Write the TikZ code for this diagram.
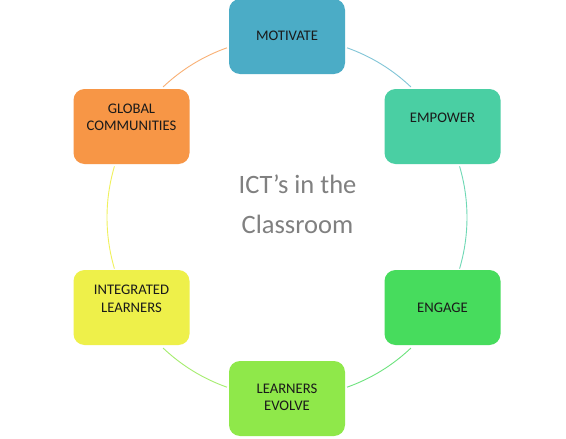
\documentclass[tikz,border=0pt]{standalone}
\usepackage{fontspec}
\setmainfont{Carlito}
\definecolor{cMot}{HTML}{4BACC6}
\definecolor{cEmp}{HTML}{4ACFA3}
\definecolor{cEng}{HTML}{47DC5D}
\definecolor{cLev}{HTML}{8FE84A}
\definecolor{cInt}{HTML}{EEF04A}
\definecolor{cGlo}{HTML}{F79646}
\definecolor{cTitle}{HTML}{808080}
\definecolor{cTxt}{HTML}{1A1A1A}
\begin{document}
\begin{tikzpicture}[x=1pt,y=1pt,
  box/.style={draw=none, rounded corners=11pt, minimum width=116pt, minimum height=75pt, inner sep=0pt},
  lbl/.style={text=cTxt, align=center, inner sep=0pt, font=\fontsize{14.67pt}{17.5pt}\selectfont},
  ring/.style={line width=0.9pt},
  title/.style={text=cTitle, align=center, inner sep=0pt, font=\fontsize{26.5pt}{40pt}\selectfont}]
\useasboundingbox[fill=white] (0,0) rectangle (566,-439);
\coordinate (c) at (287,-217.5);
% ring arcs
\draw[ring, cMot!70] ([shift={(70.5:180pt)}]c) arc[start angle=70.5, end angle=46.5, radius=180pt];
\draw[ring, cEmp!80] ([shift={(16.5:180pt)}]c) arc[start angle=16.5, end angle=-16.5, radius=180pt];
\draw[ring, cEng!80] ([shift={(-46.5:180pt)}]c) arc[start angle=-46.5, end angle=-70.5, radius=180pt];
\draw[ring, cLev!80] ([shift={(-109.5:180pt)}]c) arc[start angle=-109.5, end angle=-133.5, radius=180pt];
\draw[ring, cInt!90] ([shift={(196.5:180pt)}]c) arc[start angle=196.5, end angle=163.5, radius=180pt];
\draw[ring, cGlo!75] ([shift={(133.5:180pt)}]c) arc[start angle=133.5, end angle=109.5, radius=180pt];
% boxes
\node[box, fill=cMot] (mot) at (287,-36.5) {};
\node[box, fill=cEmp] (emp) at (442.5,-126.5) {};
\node[box, fill=cEng] (eng) at (442.5,-307.5) {};
\node[box, fill=cLev] (lev) at (287,-398.5) {};
\node[box, fill=cInt] (int) at (131.5,-307.5) {};
\node[box, fill=cGlo] (glo) at (131.5,-126.5) {};
% labels
\node[lbl] (motT) at (287,-35.3) {MOTIVATE};
\node[lbl] (empT) at (442.5,-117.3) {EMPOWER};
\node[lbl] (engT) at (442.5,-308) {ENGAGE};
\node[lbl] (levT) at (287,-397.5) {LEARNERS\\EVOLVE};
\node[lbl] (intT) at (131.5,-298.7) {INTEGRATED\\LEARNERS};
\node[lbl] (gloT) at (131.5,-117.5) {GLOBAL\\COMMUNITIES};
% title
\node[title] (ttl) at (297.5,-204) {ICT’s in the\\Classroom};
\end{tikzpicture}
\end{document}
